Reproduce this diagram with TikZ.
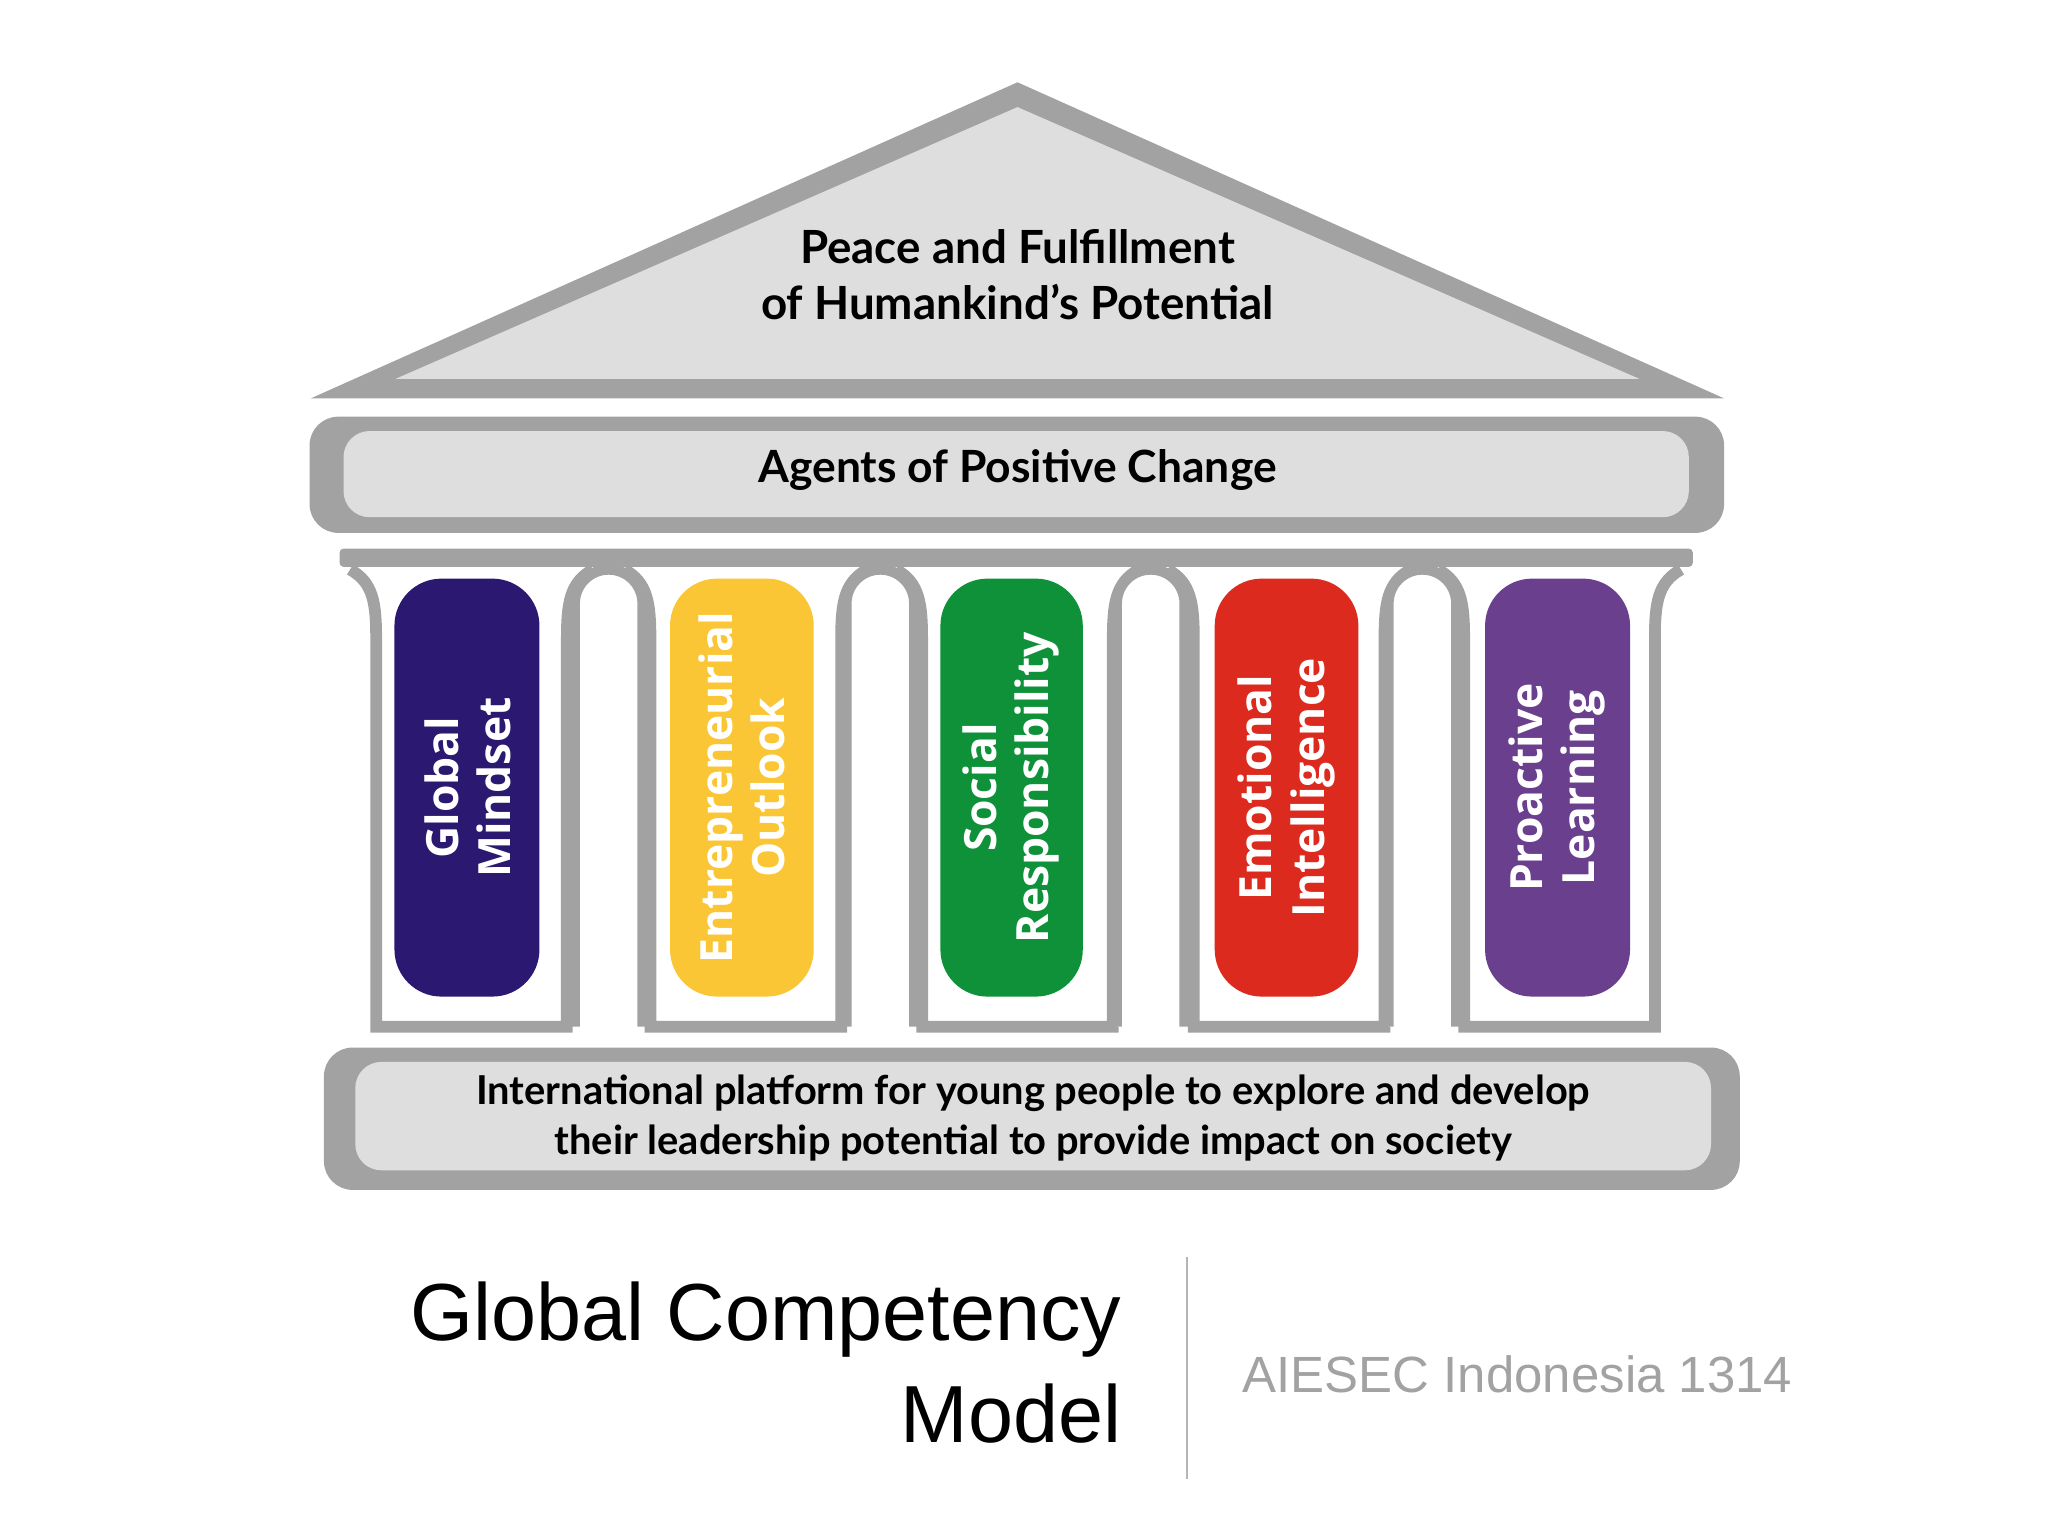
\documentclass[tikz,border=0pt]{standalone}
\usepackage{fontspec}
\setmainfont{Lato}
\newfontfamily\pillfont{Open Sans}
\newfontfamily\titlefont{Liberation Sans}
\definecolor{frame}{HTML}{A2A2A2}
\definecolor{panel}{HTML}{DEDEDE}
\definecolor{cGM}{HTML}{2B1870}
\definecolor{cEO}{HTML}{FBC635}
\definecolor{cSR}{HTML}{0E9138}
\definecolor{cEI}{HTML}{DC2A1E}
\definecolor{cPL}{HTML}{6A3F8E}
\begin{document}
\begin{tikzpicture}[x=1pt,y=-1pt,
  pill/.style={fill=#1,rounded corners=36pt},
  plabel/.style={white,rotate=90,align=center,font=\pillfont\bfseries\fontsize{34}{40}\selectfont},
  bar/.style={fill=frame,rounded corners=22pt},
  barin/.style={fill=panel,rounded corners=20pt},
  colline/.style={draw=frame,line width=9pt,fill=white},
  arch/.style={draw=frame,line width=8pt,fill=white}]
\useasboundingbox (0,0) rectangle (1568,1176);
% roof
\fill[frame] (779,63) -- (1320,305) -- (238,305) -- cycle;
\fill[panel] (779,82) -- (1255,290) -- (303,290) -- cycle;
\node[font=\bfseries\fontsize{35}{43}\selectfont,align=center] (roof) at (779,210) {Peace and Fulfillment\\of Humankind’s Potential};
% lintel
\fill[bar] (237,319) rectangle (1320,408);
\fill[barin] (263,330) rectangle (1293,396);
\node[font=\bfseries\fontsize{34}{40}\selectfont] (lintel) at (779,360) {Agents of Positive Change};
% columns
\foreach \x in {282,492,700,908,1115}{
  \draw[colline] (\x-14,436) .. controls (\x+4,446) and (\x+6,462) .. (\x+6,490) -- (\x+6,786) -- (\x+152,786) -- (\x+152,490) .. controls (\x+152,462) and (\x+154,446) .. (\x+172,436);
}
% arches between columns
\foreach \x in {440,648,855,1063}{
  \draw[arch] (\x,786) -- (\x,462) arc[start angle=180,end angle=360,radius=26] -- (\x+52,786);
}
\fill[frame,rounded corners=3pt] (260,420) rectangle (1296,434);
% pills
\fill[pill=cGM] (302,443) rectangle (413,763);
\fill[pill=cEO] (513,443) rectangle (623,763);
\fill[pill=cSR] (720,443) rectangle (829,763);
\fill[pill=cEI] (930,443) rectangle (1040,763);
\fill[pill=cPL] (1137,443) rectangle (1248,763);
\node[plabel] (gm) at (358,603) {Global\\Mindset};
\node[plabel] (eo) at (568,603) {Entrepreneurial\\Outlook};
\node[plabel] (sr) at (774,603) {Social\\Responsibility};
\node[plabel] (ei) at (985,603) {Emotional\\Intelligence};
\node[plabel] (pl) at (1192,603) {Proactive\\Learning};
% base
\fill[bar] (248,802) rectangle (1332,911);
\fill[barin] (272,813) rectangle (1310,896);
\node[font=\bfseries\fontsize{30.5}{38}\selectfont,align=center] (base) at (791,856) {International platform for young people to explore and develop\\their leadership potential to provide impact on society};
% title
\node[anchor=east,align=right,font=\titlefont\fontsize{62}{78}\selectfont] (title) at (862,1043) {Global Competency\\Model};
\draw[frame!80,line width=1.5pt] (909,962) -- (909,1132);
\node[anchor=west,text=frame,font=\titlefont\fontsize{39}{40}\selectfont] (org) at (948,1052) {AIESEC Indonesia 1314};
\end{tikzpicture}
\end{document}
